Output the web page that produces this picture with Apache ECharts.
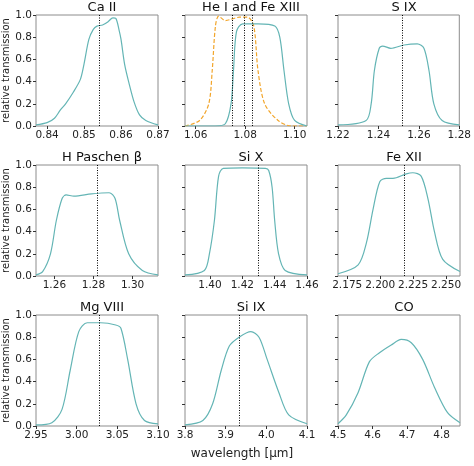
<!DOCTYPE html><html><head><meta charset="utf-8"><script src="https://cdn.jsdelivr.net/npm/echarts@6/dist/echarts.min.js"></script>
<style>body{margin:0}#c{width:474px;height:466px}</style></head><body><div id="c"></div><script>
const titles=["Ca II","He I and Fe XIII","S IX","H Paschen β","Si X","Fe XII","Mg VIII","Si IX","CO"];
const xRanges=[[0.837,0.87],[1.0557,1.105],[1.22,1.28],[1.2506,1.313],[1.3845,1.46],[2.168,2.2606],[2.95,3.10],[3.8,4.1],[4.5,4.853]];
const xTicks=[[0.84,0.85,0.86,0.87],[1.06,1.08,1.10],[1.22,1.24,1.26,1.28],[1.26,1.28,1.30],[1.40,1.42,1.44,1.46],[2.175,2.2,2.225,2.25],[2.95,3.0,3.05,3.10],[3.8,3.9,4.0,4.1],[4.5,4.6,4.7,4.8]];
const xTickText=[["0.84","0.85","0.86","0.87"],["1.06","1.08","1.10"],["1.22","1.24","1.26","1.28"],["1.26","1.28","1.30"],["1.40","1.42","1.44","1.46"],["2.175","2.200","2.225","2.250"],["2.95","3.00","3.05","3.10"],["3.8","3.9","4.0","4.1"],["4.5","4.6","4.7","4.8"]];
const lineCenters=[[0.8542],[1.0747,1.0798,1.0830],[1.252],[1.2818],[1.4301],[2.2183],[3.028],[3.934],[]];
const caII=[[0.837,0.01],[0.840,0.03],[0.842,0.07],[0.8435,0.14],[0.845,0.2],[0.847,0.3],[0.849,0.42],[0.850,0.56],[0.8513,0.78],[0.8525,0.87],[0.8535,0.9],[0.855,0.91],[0.8565,0.94],[0.8578,0.975],[0.8586,0.97],[0.8595,0.86],[0.860,0.78],[0.861,0.55],[0.8622,0.38],[0.8635,0.22],[0.865,0.1],[0.8667,0.05],[0.870,0.01]];
const heI=[[1.0557,0.0],[1.0616,0.05],[1.0653,0.2],[1.0667,0.5],[1.068,0.9],[1.0693,0.99],[1.072,0.95],[1.0777,0.98],[1.081,0.98],[1.0835,0.9],[1.0852,0.5],[1.0879,0.2],[1.0933,0.05],[1.0987,0.0],[1.105,0.0]];
const feXIII=[[1.0557,0.0],[1.068,0.0],[1.072,0.02],[1.0743,0.2],[1.0753,0.5],[1.0765,0.85],[1.079,0.92],[1.0852,0.92],[1.092,0.9],[1.094,0.8],[1.0957,0.5],[1.0976,0.2],[1.10,0.05],[1.105,0.0]];
const sIX=[[1.22,0.01],[1.2339,0.05],[1.2364,0.2],[1.238,0.5],[1.2404,0.7],[1.2421,0.72],[1.2461,0.70],[1.2527,0.73],[1.2592,0.74],[1.2625,0.7],[1.265,0.5],[1.2674,0.2],[1.2715,0.05],[1.28,0.01]];
const hPb=[[1.2506,0.01],[1.254,0.04],[1.258,0.2],[1.261,0.5],[1.264,0.7],[1.266,0.73],[1.27,0.72],[1.279,0.74],[1.288,0.75],[1.291,0.7],[1.2934,0.5],[1.298,0.2],[1.305,0.05],[1.313,0.01]];
const siX=[[1.3845,0.01],[1.3965,0.05],[1.3996,0.2],[1.4027,0.5],[1.4053,0.9],[1.4082,0.97],[1.42,0.975],[1.4343,0.97],[1.4363,0.95],[1.4384,0.8],[1.44,0.5],[1.4424,0.2],[1.4465,0.05],[1.46,0.01]];
const feXII=[[2.168,0.02],[2.1833,0.1],[2.1896,0.3],[2.1946,0.6],[2.1997,0.85],[2.2047,0.88],[2.2097,0.88],[2.2198,0.92],[2.2248,0.93],[2.2311,0.9],[2.2362,0.7],[2.2412,0.4],[2.2475,0.15],[2.2606,0.04]];
const mgVIII=[[2.95,0.01],[2.9695,0.03],[2.982,0.15],[2.992,0.5],[3.0026,0.85],[3.013,0.93],[3.0295,0.93],[3.048,0.91],[3.0544,0.88],[3.0627,0.6],[3.073,0.2],[3.0834,0.05],[3.10,0.02]];
const siIX=[[3.8,0.01],[3.844,0.05],[3.868,0.2],[3.889,0.5],[3.909,0.72],[3.933,0.8],[3.962,0.85],[3.982,0.8],[4.002,0.6],[4.031,0.3],[4.055,0.1],[4.1,0.02]];
const co=[[4.5,0.02],[4.524,0.1],[4.558,0.3],[4.591,0.58],[4.62,0.66],[4.654,0.73],[4.683,0.78],[4.712,0.75],[4.745,0.6],[4.779,0.35],[4.817,0.12],[4.853,0.03]];
const panels=[caII,feXIII,sIX,hPb,siX,feXII,mgVIII,siIX,co];
const lefts=[36,185,338],tops=[15,165,315],W=122,H=111;
const teal='#64b5b5',orange='#f2a52a';
const grid=[],xAxis=[],yAxis=[],series=[],title=[];
for(let i=0;i<9;i++){
 const r=Math.floor(i/3),c=i%3;
 grid.push({left:lefts[c],top:tops[r],width:W,height:H,show:true,borderColor:'#8c8c8c',borderWidth:1,backgroundColor:'transparent'});
 title.push({text:titles[i],left:lefts[c]+W/2,top:tops[r]-19,textAlign:'center',textStyle:{fontSize:13,fontWeight:'normal',color:'#111',fontFamily:'DejaVu Sans'}});
 xAxis.push({type:'value',gridIndex:i,min:xRanges[i][0],max:xRanges[i][1],axisLine:{show:false},splitLine:{show:false},
  axisTick:{show:true,length:3,customValues:xTicks[i],lineStyle:{color:'#333'}},
  axisLabel:{customValues:xTicks[i],formatter:(v)=>{const k=xTicks[i].findIndex(t=>Math.abs(t-v)<1e-9);return k>=0?xTickText[i][k]:'';},fontSize:10.5,color:'#222',margin:4,fontFamily:'DejaVu Sans'}});
 yAxis.push({type:'value',gridIndex:i,min:0,max:1,interval:0.2,axisLine:{show:false},splitLine:{show:false},
  axisTick:{show:true,length:3,lineStyle:{color:'#333'}},
  axisLabel:{show:c===0,fontSize:10.5,color:'#222',margin:4,formatter:v=>v.toFixed(1),fontFamily:'DejaVu Sans'},
  name:c===0?'relative transmission':'',nameLocation:'middle',nameGap:25,nameTextStyle:{fontSize:10,color:'#222',fontFamily:'DejaVu Sans'}});
 const ml={silent:true,symbol:'none',precision:5,label:{show:false},lineStyle:{color:'#000',type:[1,1.5],width:1},data:lineCenters[i].map(x=>({xAxis:x}))};
 if(i===1){
  series.push({type:'line',xAxisIndex:i,yAxisIndex:i,data:heI,smooth:0.3,showSymbol:false,lineStyle:{color:orange,type:[4,2],width:1.2}});
 }
 series.push({type:'line',xAxisIndex:i,yAxisIndex:i,data:panels[i],smooth:0.3,showSymbol:false,lineStyle:{color:teal,width:1.2},markLine:ml,z:3});
}
title.push({text:'wavelength [μm]',left:237,top:443,textAlign:'center',textStyle:{fontSize:12,fontWeight:'normal',color:'#222',fontFamily:'DejaVu Sans'}});
const ch=echarts.init(document.getElementById('c'));
ch.setOption({animation:false,backgroundColor:'#fff',title,grid,xAxis,yAxis,series});
</script></body></html>
